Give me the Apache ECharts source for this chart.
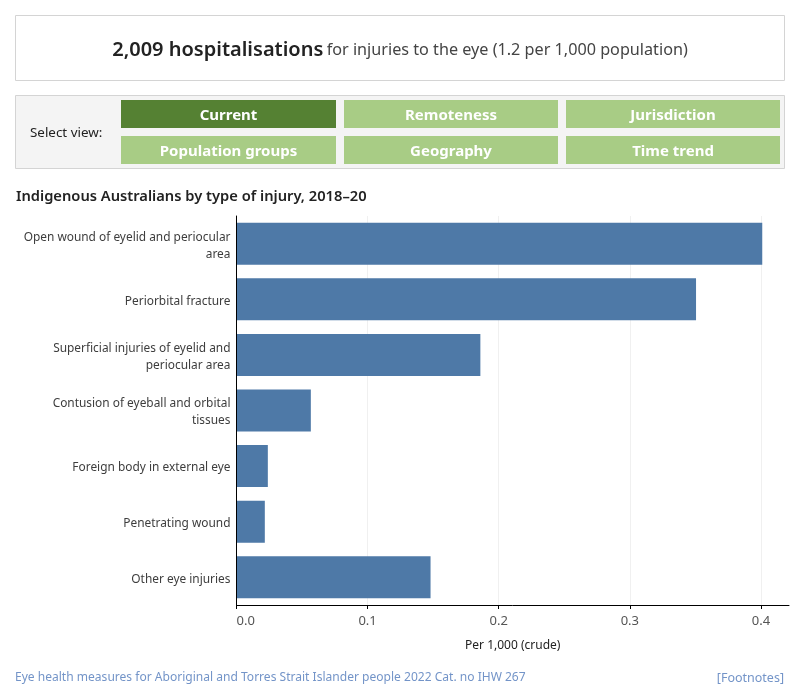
<!DOCTYPE html>
<html>
<head>
<meta charset="utf-8">
<style>
  html, body { margin: 0; padding: 0; background: #fff; }
  #main { width: 800px; height: 700px; }
</style>
<script src="https://cdn.jsdelivr.net/npm/echarts@6/dist/echarts.min.js"></script>
</head>
<body>
<div id="main"></div>
<script>
var categories = [
  'Open wound of eyelid and periocular\narea',
  'Periorbital fracture',
  'Superficial injuries of eyelid and\nperiocular area',
  'Contusion of eyeball and orbital\ntissues',
  'Foreign body in external eye',
  'Penetrating wound',
  'Other eye injuries'
];
var rates = [0.401, 0.3505, 0.186, 0.0567, 0.0239, 0.0216, 0.148];
var ticks = [0, 0.1, 0.2, 0.3, 0.4];
var viewButtons = ['Current', 'Remoteness', 'Jurisdiction', 'Population groups', 'Geography', 'Time trend'];

var font = '"Noto Sans", sans-serif';

// 选项按钮 (top row then bottom row)
function buttonGraphics() {
  var xs = [121, 344, 566];
  var widths = [215, 214, 214];
  var out = [];
  viewButtons.forEach(function (name, i) {
    var col = i % 3;
    var row = Math.floor(i / 3);
    out.push({
      type: 'rect',
      shape: { x: xs[col], y: 100 + row * 36, width: widths[col], height: 28 },
      style: { fill: i === 0 ? '#558133' : '#a8cc85' }
    });
    out.push({
      type: 'text',
      style: {
        x: xs[col] + widths[col] / 2, y: 115.5 + row * 36, text: name,
        fill: '#fff', font: 'bold 15px ' + font, align: 'center', verticalAlign: 'middle'
      }
    });
  });
  return out;
}

var echart = echarts.init(document.getElementById('main'));
var option = {
  animation: false,
  backgroundColor: '#fff',
  grid: { left: 236.5, right: 11, top: 216, bottom: 95 },
  xAxis: {
    type: 'value',
    min: 0,
    max: 0.4214,
    interval: 0.1,
    name: 'Per 1,000 (crude)',
    nameLocation: 'middle',
    nameGap: 35,
    nameTextStyle: { color: '#222', fontSize: 12, fontFamily: font },
    axisLine: { show: true, lineStyle: { color: '#000', width: 1 } },
    axisTick: { show: true, length: 4, lineStyle: { color: '#000' }, customValues: ticks },
    axisLabel: {
      color: '#555', fontSize: 13, fontFamily: font, margin: 10, alignMinLabel: 'left',
      customValues: ticks,
      formatter: function (v) { return v.toFixed(1); }
    },
    splitLine: { show: true, lineStyle: { color: '#f0f0f0', width: 1 } }
  },
  yAxis: {
    type: 'category',
    inverse: true,
    z: 5,
    data: categories,
    axisLine: { show: true, lineStyle: { color: '#000', width: 1 } },
    axisTick: { show: false },
    axisLabel: {
      margin: 6, align: 'right', padding: [4, 0, 0, 0],
      // rich text so the padding really nudges the labels down
      formatter: function (v) { return '{t|' + v + '}'; },
      rich: {
        t: { color: '#3d3d3d', fontSize: 11.9, fontFamily: font, lineHeight: 17, align: 'right' }
      }
    }
  },
  series: [{
    type: 'bar',
    data: rates,
    barWidth: 42,
    itemStyle: { color: '#4e79a7' }
  }],
  graphic: [
    { type: 'rect', shape: { x: 15.5, y: 15.5, width: 769, height: 65 }, style: { fill: '#fff', stroke: '#d4d4d4', lineWidth: 1 } },
    { type: 'rect', shape: { x: 15.5, y: 95.5, width: 769, height: 73 }, style: { fill: '#f4f4f4', stroke: '#d4d4d4', lineWidth: 1 } },
    {
      type: 'text',
      style: {
        x: 400, y: 50, align: 'center', verticalAlign: 'middle',
        text: '{a|2,009 hospitalisations} {b|for injuries to the eye (1.2 per 1,000 population)}',
        rich: {
          a: { font: '600 20px ' + font, fill: '#222' },
          b: { font: '16.2px ' + font, fill: '#444' }
        }
      }
    },
    { type: 'text', style: { x: 30, y: 133, text: 'Select view:', fill: '#222', font: '13.4px ' + font, verticalAlign: 'middle' } },
    { type: 'text', style: { x: 16, y: 197, text: 'Indigenous Australians by type of injury, 2018–20', fill: '#222', font: '600 14.7px ' + font, verticalAlign: 'middle' } },
    { type: 'text', style: { x: 15, y: 678, text: 'Eye health measures for Aboriginal and Torres Strait Islander people 2022 Cat. no IHW 267', fill: '#7394c8', font: '12.05px ' + font, verticalAlign: 'middle' } },
    { type: 'text', style: { x: 784, y: 678, text: '[Footnotes]', fill: '#7394c8', font: '12.5px ' + font, align: 'right', verticalAlign: 'middle' } }
  ].concat(buttonGraphics())
};
echart.setOption(option);
</script>
</body>
</html>
